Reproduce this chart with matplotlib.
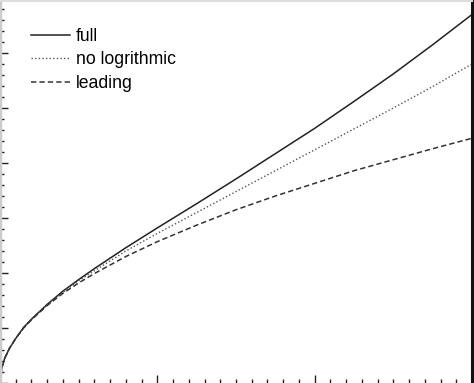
import matplotlib
matplotlib.use("Agg")
import matplotlib.pyplot as plt
from matplotlib.ticker import MultipleLocator, NullFormatter

# values (arbitrary units)
x = [0, 0.01, 0.03, 0.06, 0.1, 0.15, 0.2, 0.3, 0.4, 0.5, 0.6, 0.8,
     1.0, 1.25, 1.5, 1.75, 2.0, 2.25, 2.5, 2.75, 3.0]
full = [0, 0.26, 0.45, 0.63, 0.81, 1.01, 1.16, 1.43, 1.67, 1.88, 2.08, 2.46,
        2.82, 3.26, 3.71, 4.17, 4.63, 5.12, 5.62, 6.15, 6.70]
no_log = [0, 0.26, 0.45, 0.63, 0.81, 1.00, 1.16, 1.42, 1.65, 1.86, 2.04, 2.40,
          2.72, 3.10, 3.48, 3.86, 4.24, 4.62, 5.00, 5.39, 5.80]
leading = [0, 0.26, 0.45, 0.63, 0.81, 1.00, 1.15, 1.41, 1.63, 1.82, 1.99, 2.30,
           2.57, 2.87, 3.15, 3.40, 3.63, 3.86, 4.06, 4.26, 4.45]
labels = ["full", "no logrithmic", "leading"]

plt.rcParams['font.family'] = ['Liberation Sans', 'DejaVu Sans']

fig = plt.figure(figsize=(4.74, 3.83), dpi=100)
ax = fig.add_axes([0.0, 0.0, 472 / 474, 382 / 383])

ax.plot(x, full, color='#222222', lw=1.1, ls='-', label=labels[0])
ax.plot(x, no_log, color='#555555', lw=1.0, ls=(0, (1, 1.6)), label=labels[1])
ax.plot(x, leading, color='#333333', lw=1.1, ls=(0, (3.5, 2)), label=labels[2])

ax.set_xlim(0, 3)
ax.set_ylim(0, 382 / 55)

ax.xaxis.set_major_locator(MultipleLocator(1))
ax.xaxis.set_minor_locator(MultipleLocator(0.1))
ax.yaxis.set_major_locator(MultipleLocator(1))
ax.yaxis.set_minor_locator(MultipleLocator(0.2))
ax.xaxis.set_major_formatter(NullFormatter())
ax.yaxis.set_major_formatter(NullFormatter())
ax.tick_params(which='both', direction='in', color='#222222', width=1.0)
ax.tick_params(which='major', length=5.8)
ax.tick_params(which='minor', length=3.2)

ax.spines['bottom'].set_visible(False)
ax.spines['left'].set_color('#cccccc')
ax.spines['left'].set_linewidth(2.5)
ax.spines['top'].set_color('#dddddd')
ax.spines['top'].set_linewidth(1.5)
ax.spines['right'].set_color('#111111')
ax.spines['right'].set_linewidth(2.2)

ax.legend(loc='upper left', bbox_to_anchor=(31 / 472, 1 - 27 / 382),
          frameon=False, fontsize=12.7, handlelength=2.2, handletextpad=0.35,
          labelspacing=0.36, borderaxespad=0, borderpad=0)

fig.savefig("out.png", dpi=100)
